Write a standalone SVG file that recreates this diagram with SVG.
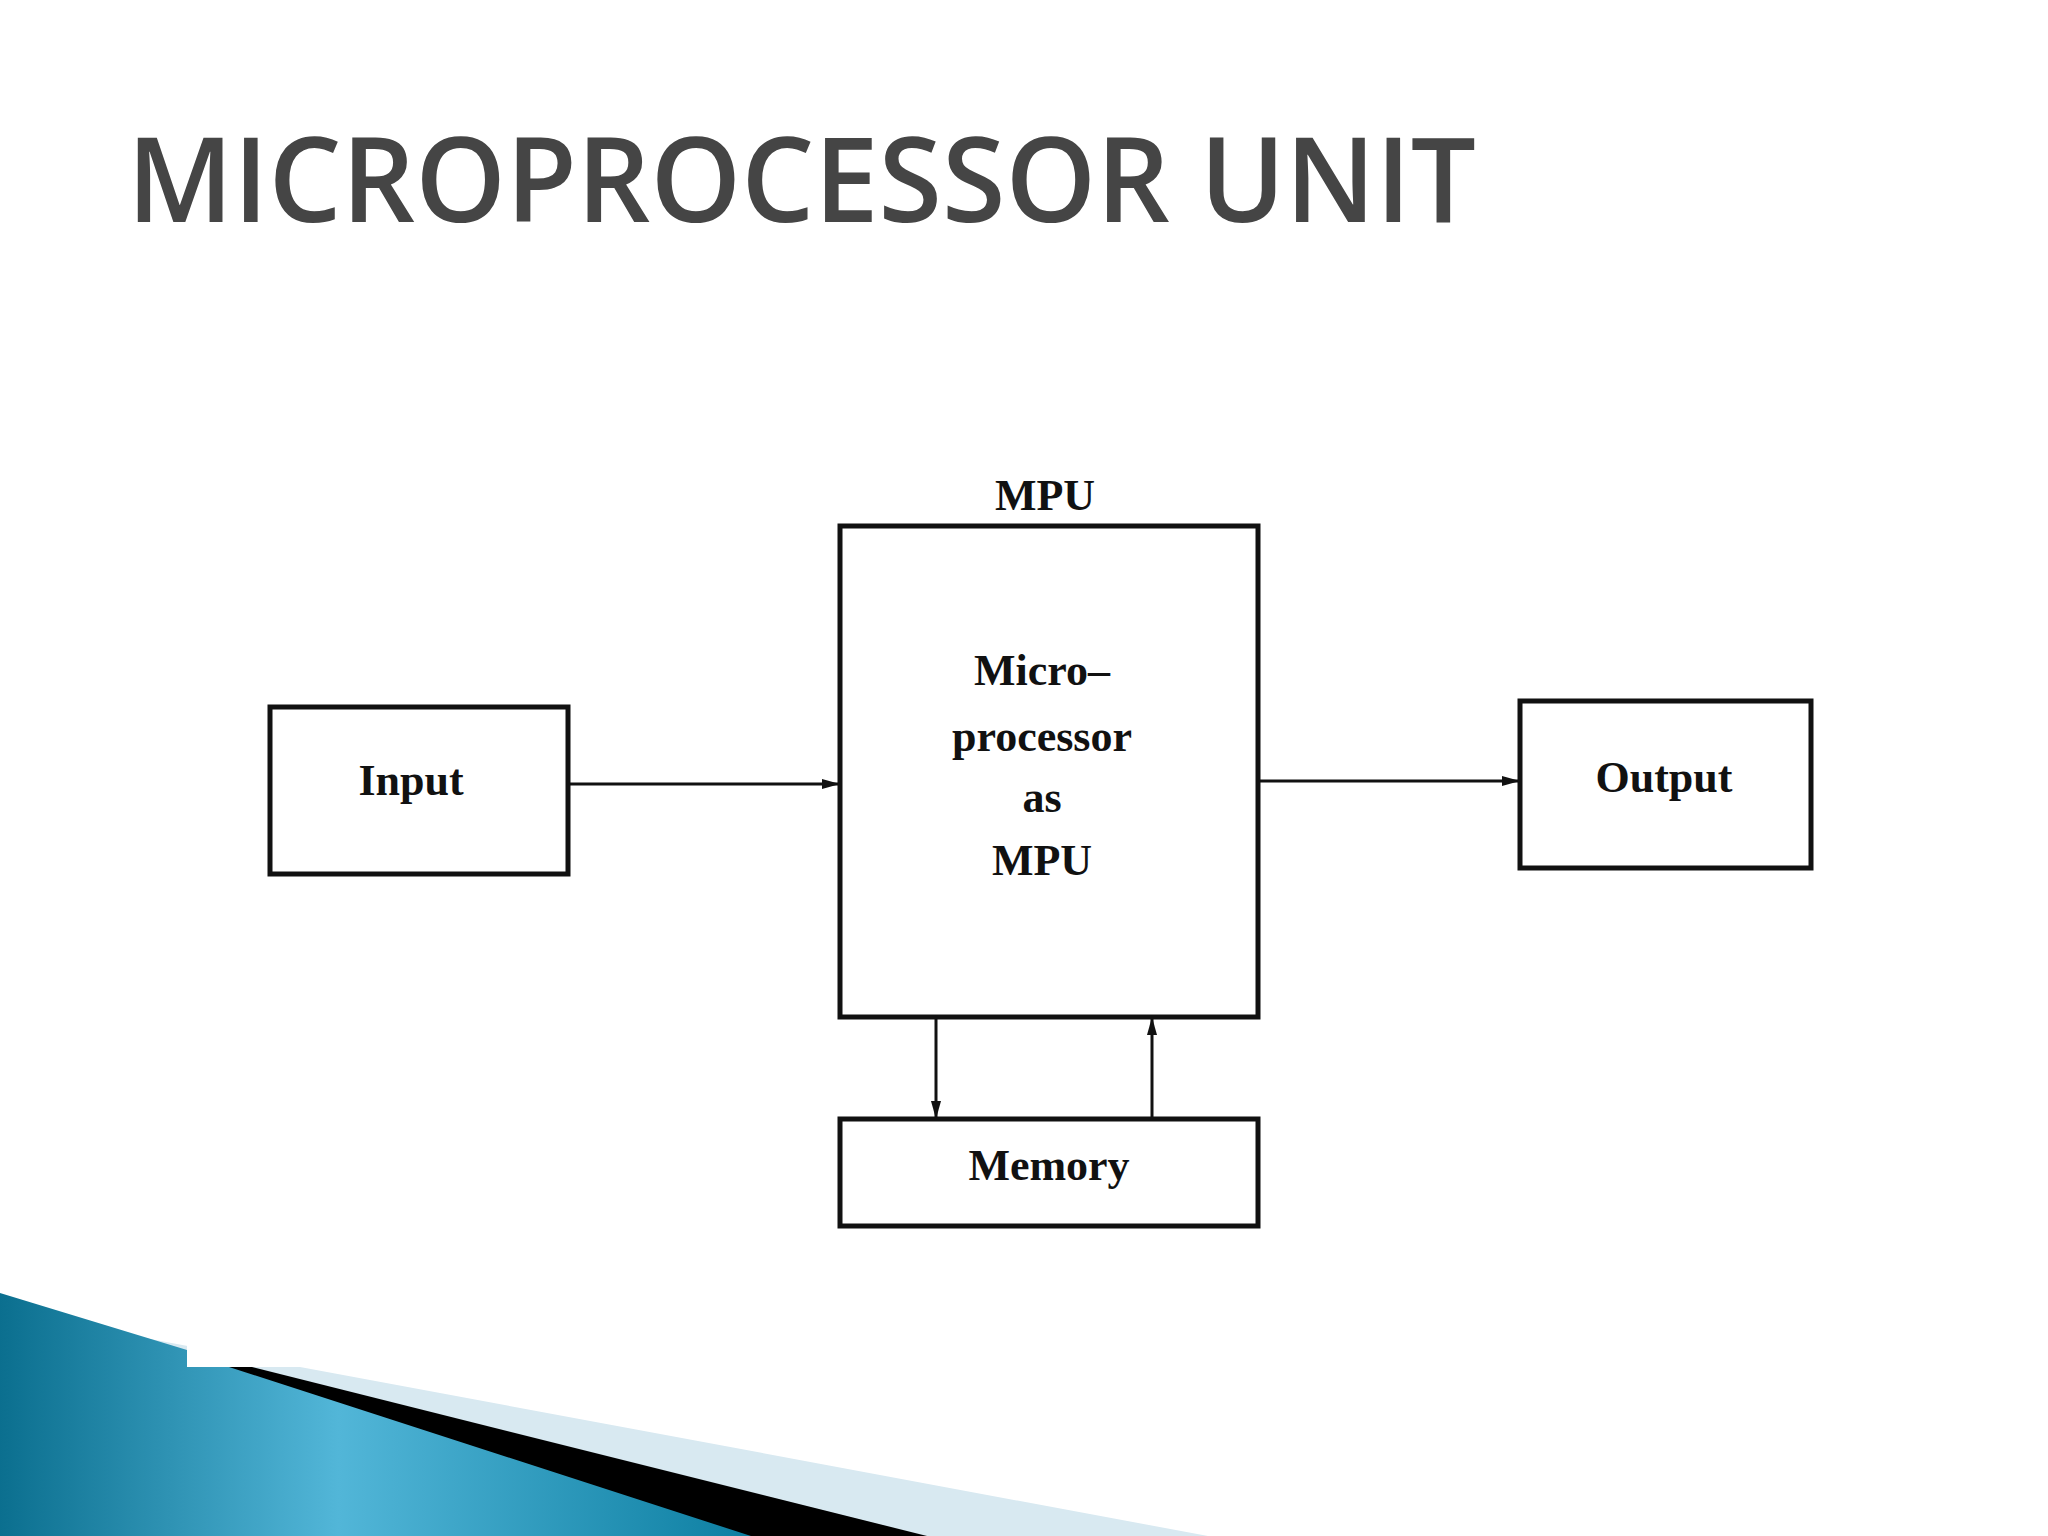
<svg xmlns="http://www.w3.org/2000/svg" width="2048" height="1536" viewBox="0 0 2048 1536">
<defs>
<style>
.box{fill:#fff;stroke:#111;stroke-width:5}
.lbl{font-family:"Liberation Serif",serif;font-weight:bold;font-size:44px;fill:#111;text-anchor:middle}
.ln{stroke:#111;stroke-width:3;fill:none}
</style>
<marker id="ah" viewBox="0 0 18 10" refX="18" refY="5" markerWidth="18" markerHeight="10" markerUnits="userSpaceOnUse" orient="auto"><path d="M0,0L18,5L0,10z" fill="#111"/></marker>
<linearGradient id="bl" x1="0" y1="0" x2="1" y2="0"><stop offset="0" stop-color="#0b6f8f"/><stop offset="0.45" stop-color="#52b6d8"/><stop offset="1" stop-color="#0d7fa2"/></linearGradient>
</defs>
<rect width="2048" height="1536" fill="#fff"/>
<g id="decor">
<polygon points="0,1311 300,1367 1208,1536 0,1536" fill="#d8e9f1"/>
<polygon points="0,1304 927,1536 0,1536" fill="#000"/>
<polygon points="0,1293 187,1350 229,1367 751,1536 0,1536" fill="url(#bl)"/>
<rect x="187" y="1330" width="113" height="37" fill="#fff"/>
</g>
<text x="127" y="222" font-family="Open Sans,sans-serif" font-weight="600" font-size="118" fill="#454545" textLength="1349" lengthAdjust="spacingAndGlyphs">MICROPROCESSOR UNIT</text>
<g id="connectors">
<line class="ln" x1="568" y1="784" x2="840" y2="784" marker-end="url(#ah)"/>
<line class="ln" x1="1258" y1="781" x2="1520" y2="781" marker-end="url(#ah)"/>
<line class="ln" x1="936" y1="1017" x2="936" y2="1119" marker-end="url(#ah)"/>
<line class="ln" x1="1152" y1="1119" x2="1152" y2="1017" marker-end="url(#ah)"/>
</g>
<g id="mpu">
<rect class="box" x="840" y="526" width="418" height="491"/>
<text class="lbl" x="1045" y="510">MPU</text>
<text class="lbl" x="1042" y="685">Micro–</text>
<text class="lbl" x="1042" y="751">processor</text>
<text class="lbl" x="1042" y="812">as</text>
<text class="lbl" x="1042" y="875">MPU</text>
</g>
<g id="input"><rect class="box" x="270" y="707" width="298" height="167"/><text class="lbl" x="411" y="795">Input</text></g>
<g id="output"><rect class="box" x="1520" y="701" width="291" height="167"/><text class="lbl" x="1664" y="792">Output</text></g>
<g id="memory"><rect class="box" x="840" y="1119" width="418" height="107"/><text class="lbl" x="1049" y="1180">Memory</text></g>
</svg>
